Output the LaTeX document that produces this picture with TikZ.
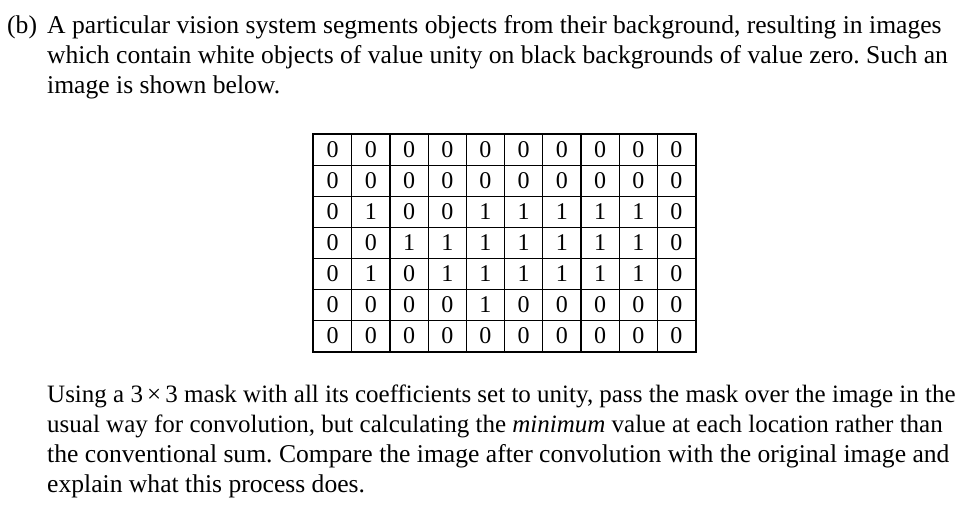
\documentclass[tikz,border=0pt]{standalone}
\usepackage{fontspec}
\setmainfont{Liberation Serif}
\frenchspacing
\begin{document}
\begin{tikzpicture}[x=1pt,y=-1pt,
  txt/.style={anchor=base west,inner sep=0pt,font=\fontsize{25.6}{30}\selectfont},
  cell/.style={draw,line width=1.1pt,minimum width=38.2pt,minimum height=31pt,inner sep=0pt,anchor=north west,font=\fontsize{24}{30}\selectfont}]
\useasboundingbox (0,0) rectangle (966,530);
\node[txt] (b) at (7,33) {(b)};
\node[txt] (l1) at (47,33) {A particular vision system segments objects from their background, resulting in images};
\node[txt] (l2) at (47,63) {which contain white objects of value unity on black backgrounds of value zero. Such an};
\node[txt] (l3) at (47,93) {image is shown below.};
\foreach \row [count=\r from 0] in {{0,0,0,0,0,0,0,0,0,0},{0,0,0,0,0,0,0,0,0,0},{0,1,0,0,1,1,1,1,1,0},{0,0,1,1,1,1,1,1,1,0},{0,1,0,1,1,1,1,1,1,0},{0,0,0,0,1,0,0,0,0,0},{0,0,0,0,0,0,0,0,0,0}}{
  \foreach \v [count=\c from 0] in \row {
    \node[cell] (c\r-\c) at (313+38.2*\c,134+31*\r) {\v};
  }
}
\draw[line width=1.1pt] (c0-0.north west) rectangle (c6-9.south east);
\node[txt,font=\fontsize{25}{30}\selectfont] (m1) at (47,402) {Using a 3\,×\,3 mask with all its coefficients set to unity, pass the mask over the image in the};
\node[txt,font=\fontsize{25}{30}\selectfont] (m2) at (47,432) {usual way for convolution, but calculating the \emph{minimum} value at each location rather than};
\node[txt] (m3) at (47,462) {the conventional sum. Compare the image after convolution with the original image and};
\node[txt] (m4) at (47,492) {explain what this process does.};
\end{tikzpicture}
\end{document}
